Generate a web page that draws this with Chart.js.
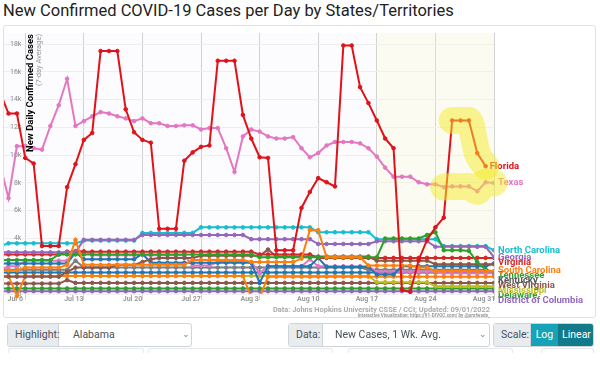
<!DOCTYPE html>
<html><head><meta charset="utf-8">
<script src="https://cdn.jsdelivr.net/npm/chart.js@4"></script>
<style>
html,body{margin:0;padding:0;background:#fff;}
body{width:600px;height:386px;position:relative;overflow:hidden;font-family:Roboto,"Helvetica Neue",Arial,sans-serif;}
#title{position:absolute;left:3px;top:1px;font-size:16.5px;color:#222;white-space:nowrap;}
#panel{position:absolute;left:3px;top:25px;width:593px;height:293px;border:1px solid #e2e2e2;border-radius:3px;box-sizing:border-box;}
#cv{position:absolute;left:0;top:0;}
.src{position:absolute;right:110px;white-space:nowrap;text-align:right;color:#aaa;font-weight:bold;}
.grp{position:absolute;top:323px;height:24px;border:1px solid #ced4da;border-radius:3px;box-sizing:border-box;font-size:10.5px;color:#495057;overflow:hidden;background:#fff;}
.lab{position:absolute;top:0;bottom:0;left:0;background:#e9ecef;border-right:1px solid #ced4da;line-height:22px;padding-left:7px;box-sizing:border-box;}
.val{position:absolute;top:0;line-height:22px;}
.chev{position:absolute;top:0;line-height:20px;font-size:9px;color:#888;}
.btn{position:absolute;top:0;bottom:0;color:#fff;line-height:22px;text-align:center;}
.row2{position:absolute;top:348px;height:5px;border:1px solid #e6e9ec;border-bottom:none;border-radius:3px 3px 0 0;box-sizing:border-box;}
</style></head>
<body>
<div id="title">New Confirmed COVID-19 Cases per Day by States/Territories</div>
<div id="panel"></div>
<canvas id="cv" width="600" height="320"></canvas>
<div class="src" style="top:305px;font-size:7.4px;">Data: Johns Hopkins University CSSE / CCI; Updated: 09/01/2022</div>
<div class="src" style="top:313px;font-size:4.6px;color:#999;">Interactive Visualization: https://91-DIVOC.com/ by @profwade_</div>

<div class="grp" style="left:7px;width:185px;"><div class="lab" style="width:51px;">Highlight:</div><div class="val" style="left:65px;">Alabama</div><div class="chev" style="left:174px;">&#8964;</div></div>
<div class="grp" style="left:288px;width:202px;"><div class="lab" style="width:34px;">Data:</div><div class="val" style="left:46px;">New Cases, 1 Wk. Avg.</div><div class="chev" style="left:190px;">&#8964;</div></div>
<div class="grp" style="left:493px;width:101px;"><div class="lab" style="width:37px;">Scale:</div><div class="btn" style="left:37px;width:27px;background:#17a2b8;">Log</div><div class="btn" style="left:64px;width:37px;background:#117a8b;">Linear</div></div>
<div class="row2" style="left:8px;width:136px;"></div>
<div class="row2" style="left:148px;width:185px;"></div>
<div class="row2" style="left:348px;width:165px;"></div>
<div class="row2" style="left:541px;width:53px;"></div>

<script>
// Days shown (x index = position in this list)
const dates = ['Jul 3','Jul 4','Jul 5','Jul 6','Jul 7','Jul 8','Jul 9','Jul 10','Jul 11','Jul 12',
 'Jul 13','Jul 14','Jul 15','Jul 16','Jul 17','Jul 18','Jul 19','Jul 20','Jul 21','Jul 22',
 'Jul 23','Jul 24','Jul 25','Jul 26','Jul 27','Jul 28','Jul 29','Jul 30','Jul 31','Aug 1',
 'Aug 2','Aug 3','Aug 4','Aug 5','Aug 6','Aug 7','Aug 8','Aug 9','Aug 10','Aug 11',
 'Aug 12','Aug 13','Aug 14','Aug 15','Aug 16','Aug 17','Aug 18','Aug 19','Aug 20','Aug 21',
 'Aug 22','Aug 23','Aug 24','Aug 25','Aug 26','Aug 27','Aug 28','Aug 29','Aug 30','Aug 31'];
const tickLabels = ['Jul 6','Jul 13','Jul 20','Jul 27','Aug 3','Aug 10','Aug 17','Aug 24','Aug 31'];
const yTickValues = [0,2,4,6,8,10,12,14,16,18]; // thousands
const shadeFrom = 'Aug 17';

// New cases per day, 7-day average, in thousands
const florida = [14.5,13.0,13.0,9.8,9.4,3.45,3.45,3.45,7.7,9.35,
 11.1,11.6,17.5,17.5,17.5,13.3,11.65,11.1,10.9,4.7,
 4.7,4.7,9.6,10.2,10.6,10.7,16.8,16.8,16.8,12.9,
 11.2,9.85,9.8,3.15,3.15,3.15,6.2,7.35,8.35,8.05,
 7.75,17.9,17.9,14.9,13.75,12.5,11.2,10.5,0.3,0.15,
 2.45,3.9,4.8,5.5,12.5,12.5,12.5,10.15,9.2,null];
const texas = [9.3,6.9,10.65,10.65,10.5,10.4,12.1,13.6,15.5,12.1,
 12.45,12.8,13.1,13.0,12.8,12.65,12.45,12.65,12.3,12.3,
 12.1,12.1,12.15,12.15,11.85,11.95,11.95,10.5,8.8,11.35,
 11.85,11.7,11.35,11.2,11.2,11.3,10.5,9.85,10.15,10.7,
 10.95,10.95,10.95,10.85,10.5,9.9,9.1,8.45,8.45,8.45,
 8.05,7.9,7.9,7.7,7.75,7.75,7.75,7.4,8.05,8.0];
const northCarolina = [3.45,3.65,3.65,3.65,3.65,3.65,3.65,3.65,3.65,3.65,
 3.85,3.85,3.85,3.85,3.85,3.85,3.85,4.4,4.4,4.4,
 4.4,4.4,4.4,4.4,4.8,4.8,4.8,4.8,4.8,4.8,
 4.8,4.8,4.8,4.8,4.8,4.8,4.8,4.8,4.45,4.45,
 4.45,4.45,4.45,4.45,4.45,3.95,3.95,3.95,3.95,3.95,
 3.95,3.95,3.95,3.45,3.45,3.45,3.45,3.45,3.45,3.15];
const georgia = [3.0,3.0,3.0,3.0,3.0,3.0,3.0,3.0,3.0,3.0,
 3.9,3.9,3.9,3.9,3.9,3.9,3.9,4.25,4.25,4.25,
 4.25,4.25,4.25,4.25,4.25,4.25,4.25,4.25,4.25,4.25,
 3.95,3.95,3.95,3.95,3.95,3.95,3.95,3.95,3.6,3.6,
 3.6,3.6,3.6,3.6,3.6,3.8,3.8,3.8,3.8,3.8,
 3.8,3.8,3.4,3.4,3.4,3.4,3.4,3.4,3.4,2.65];
const tennessee = [2.45,2.45,2.45,2.45,2.45,2.45,2.45,2.85,2.85,2.85,
 2.85,2.85,2.85,2.85,2.85,2.85,2.85,2.85,2.85,2.85,
 2.85,2.85,2.85,2.85,2.85,2.85,2.85,2.85,2.85,2.85,
 2.85,2.65,2.65,2.65,2.65,2.65,2.65,2.65,2.65,2.65,
 2.65,2.65,2.65,2.65,2.65,2.65,4.0,4.0,4.0,4.0,
 4.0,4.25,4.45,3.15,3.15,3.15,3.1,2.3,1.75,1.6];
const virginia = [2.85,2.85,2.85,2.85,2.85,2.85,2.85,2.85,3.05,3.05,
 3.05,3.05,3.05,3.05,3.05,3.05,3.05,3.05,3.05,3.05,
 3.05,3.05,3.05,3.05,3.05,3.05,3.05,3.05,3.05,3.05,
 3.05,2.85,2.85,2.85,2.85,2.85,2.85,2.85,2.6,2.6,
 2.6,2.6,2.6,2.6,2.6,2.6,2.6,2.6,2.6,2.6,
 2.6,2.6,2.6,2.6,2.6,2.6,2.6,2.6,2.6,2.6];
const southCarolina = [1.7,1.7,1.7,1.9,1.9,1.9,1.9,1.9,2.1,3.9,
 2.1,2.1,2.1,2.1,2.1,2.1,2.1,2.1,2.1,2.1,
 2.1,2.1,2.1,2.45,2.45,2.45,2.45,2.45,2.45,2.45,
 2.3,2.3,2.3,2.3,2.3,2.3,2.55,4.6,4.6,2.65,
 2.65,2.65,2.65,2.65,2.05,2.05,2.05,2.05,2.05,2.05,
 1.9,1.9,1.65,1.65,1.65,1.65,1.65,1.65,1.65,1.65];
const kentucky = [1.75,1.75,1.75,1.75,1.75,1.75,1.75,1.75,1.75,2.4,
 1.9,1.9,1.9,1.9,1.9,1.9,1.9,1.9,1.9,1.9,
 1.9,1.9,1.9,1.9,1.9,1.9,1.9,1.9,1.9,1.9,
 1.9,1.9,1.9,1.9,1.9,1.9,1.9,1.9,1.9,1.9,
 1.9,1.9,1.9,1.9,1.75,1.75,1.75,1.75,1.75,1.75,
 1.75,1.75,1.75,1.75,1.75,1.75,1.75,1.75,1.75,1.45];
const westVirginia = [0.75,0.75,0.75,0.75,0.75,0.75,0.75,0.75,1.0,0.8,
 0.8,0.8,0.8,0.8,0.8,0.8,0.8,0.8,0.8,0.8,
 0.8,0.8,0.8,0.8,0.8,0.8,0.8,0.8,0.8,0.8,
 0.8,0.8,0.8,0.8,0.8,0.8,0.8,0.8,0.8,0.8,
 0.8,0.8,0.8,0.8,0.8,0.8,0.8,0.8,0.8,0.8,
 0.8,0.8,0.8,0.8,0.8,0.8,0.8,0.8,0.8,0.8];
const mississippi = [1.3,1.3,1.3,1.3,1.3,1.3,1.3,1.3,1.3,1.3,
 1.3,1.3,1.3,1.3,1.3,1.3,1.3,1.3,1.3,1.3,
 1.3,1.3,1.3,1.3,1.3,1.3,1.3,1.3,1.3,1.3,
 1.3,1.3,1.3,1.3,1.3,1.3,1.3,1.3,1.3,1.3,
 1.3,1.3,1.3,1.3,1.3,0.85,0.85,0.85,0.85,0.85,
 0.85,0.85,0.55,0.55,0.55,0.55,0.55,0.55,0.55,0.55];
const delaware = [0.4,0.4,0.4,0.4,0.4,0.4,0.4,0.4,0.4,0.4,
 0.4,0.4,0.4,0.4,0.4,0.4,0.4,0.4,0.4,0.4,
 0.4,0.4,0.4,0.4,0.4,0.4,0.4,0.4,0.4,0.4,
 0.4,0.4,0.4,0.4,0.4,0.4,0.4,0.4,0.4,0.4,
 0.4,0.4,0.4,0.4,0.4,0.4,0.4,0.4,0.4,0.4,
 0.4,0.4,0.4,0.4,0.4,0.4,0.4,0.4,0.4,0.4];
const districtOfColumbia = [0.2,0.2,0.2,0.2,0.2,0.2,0.2,0.2,0.2,0.2,
 0.2,0.2,0.2,0.2,0.2,0.2,0.2,0.2,0.2,0.2,
 0.2,0.2,0.2,0.2,0.2,0.2,0.2,0.2,0.2,0.2,
 0.2,0.2,0.2,0.2,0.2,0.2,0.2,0.2,0.2,0.2,
 0.2,0.2,0.2,0.2,0.2,0.2,0.2,0.2,0.2,0.2,
 0.2,0.2,0.2,0.2,0.2,0.2,0.2,0.2,0.2,0.2];
const louisiana = [1.25,1.25,1.25,1.25,1.25,1.25,1.25,1.25,1.6,1.9,
 1.9,1.9,1.9,1.9,2.1,2.1,2.1,2.3,2.5,2.6,
 2.6,2.6,2.6,2.6,2.75,2.75,2.75,2.75,2.75,2.75,
 2.75,2.75,3.2,2.7,2.7,2.7,2.7,2.7,2.7,2.7,
 2.7,2.7,2.7,2.7,2.7,2.4,2.4,2.4,2.4,2.4,
 2.4,2.4,2.15,2.15,2.15,2.15,2.15,2.15,2.15,2.15];
const alabama = [2.2,2.2,2.2,2.2,2.2,2.2,2.2,2.2,2.2,3.0,
 2.5,2.5,2.5,2.5,2.5,2.5,2.5,2.9,2.25,2.25,
 2.25,2.25,2.25,2.25,2.25,2.25,2.25,2.25,2.25,2.25,
 2.25,0.8,2.0,2.0,2.0,2.0,2.0,2.0,2.6,1.95,
 1.95,1.95,1.95,1.95,1.95,1.4,1.4,1.4,2.0,2.0,
 2.0,2.0,2.0,2.0,2.0,2.0,2.0,2.0,2.0,2.2];
const maryland = [1.7,2.0,2.0,2.4,2.4,2.4,2.4,2.4,2.4,3.1,
 3.1,2.8,2.8,2.8,2.8,2.8,2.8,2.8,2.8,2.8,
 2.8,2.8,2.8,2.05,2.05,2.05,2.3,2.3,2.3,2.3,
 2.3,1.5,2.0,2.0,2.0,2.0,2.0,2.5,2.0,2.0,
 2.0,2.0,2.0,2.0,2.0,1.6,1.6,1.6,1.6,1.6,
 1.6,1.6,1.6,1.5,1.5,1.5,1.5,1.5,1.5,1.5];
const arkansas = [1.3,1.3,-0.15,1.3,1.3,1.3,1.3,1.3,1.3,1.3,
 1.3,1.3,1.3,1.3,1.3,1.3,1.3,1.3,1.3,1.3,
 1.3,1.3,1.3,1.3,1.3,1.3,1.3,1.3,1.3,1.3,
 -0.25,-0.25,1.25,1.25,1.25,1.25,1.25,1.25,1.25,1.25,
 1.25,1.25,1.25,1.25,1.25,1.25,1.25,1.25,1.25,1.25,
 1.25,1.25,1.25,1.25,1.25,1.25,1.25,1.25,1.25,1.25];
const oklahoma = [1.55,1.55,1.55,1.55,1.55,1.55,1.55,1.55,1.55,1.55,
 1.55,1.55,1.55,1.55,1.55,1.55,1.55,1.55,1.55,1.55,
 1.55,1.55,1.55,1.55,1.55,1.55,1.55,1.55,1.55,1.55,
 1.55,1.55,1.55,1.55,1.55,1.55,1.55,1.55,1.55,1.55,
 1.55,1.55,1.55,1.55,1.55,1.55,1.55,1.55,1.55,1.55,
 1.55,1.55,1.55,1.55,1.55,1.55,1.55,1.55,1.55,1.55];

// series: name, values, colour, labelled at the right edge?
const series = [
 ['Florida', florida, '#e0121a', true],
 ['Texas', texas, '#e377c2', true],
 ['South Carolina', southCarolina, '#ff7f0e', true],
 ['Tennessee', tennessee, '#2ca02c', true],
 ['Georgia', georgia, '#9467bd', true],
 ['North Carolina', northCarolina, '#17becf', true],
 ['Virginia', virginia, '#d62728', true],
 ['Louisiana', louisiana, '#8c564b', false],
 ['Alabama', alabama, '#1f77b4', false],
 ['Maryland', maryland, '#e377c2', false],
 ['Kentucky', kentucky, '#7f7f7f', true],
 ['Arkansas', arkansas, '#ff7f0e', false],
 ['Oklahoma', oklahoma, '#1f77b4', false],
 ['Mississippi', mississippi, '#bcbd22', true],
 ['West Virginia', westVirginia, '#8c564b', true],
 ['Delaware', delaware, '#2ca02c', true],
 ['District of Columbia', districtOfColumbia, '#9467bd', true]
];
const highlighted = [['Florida', 54], ['Texas', 53]]; // name, first highlighted day index
const belowZeroMarkers = ['Arkansas']; // negative days show their dot under the axis

const labelColor = {'Kentucky':'#555'};

const datasets = series.map(([name, vals, col, lab]) => ({
  label: name, data: vals, borderColor: col, backgroundColor: col,
  pointBackgroundColor: col, pointBorderColor: col,
  borderWidth: 2, pointRadius: 1.8, pointBorderWidth: 1, pointHoverRadius: 0,
  tension: 0, fill: false, spanGaps: false, showLabel: lab
}));
belowZeroMarkers.forEach(name => {
  const [, vals, col] = series.find(s => s[0] === name);
  datasets.push({
    label: name + ' below zero', data: vals.map(v => v < 0 ? v : null), showLine: false,
    pointBackgroundColor: col, pointBorderColor: col, pointRadius: 1.8, pointBorderWidth: 1, pointHoverRadius: 0,
    clip: false, showLabel: false
  });
});
highlighted.forEach(([name, from]) => {
  const src = series.find(s => s[0] === name)[1];
  datasets.push({
    label: name + ' highlight', data: src.map((v, i) => i >= from ? v : null),
    borderColor: 'rgba(246,236,40,0.5)', borderWidth: 27, borderCapStyle: 'round', borderJoinStyle: 'round',
    pointRadius: 0, pointHoverRadius: 0, fill: false, cubicInterpolationMode: 'monotone', order: -1, clip: false, showLabel: false
  });
});

const bgPlugin = {
  id: 'bg',
  beforeDatasetsDraw(chart) {
    const {ctx, chartArea: a, scales: {x}} = chart;
    ctx.save();
    const sx = x.getPixelForValue(dates.indexOf(shadeFrom));
    ctx.fillStyle = 'rgba(255,255,190,0.18)';
    ctx.fillRect(sx, a.top, a.right - sx, a.bottom - a.top);
    ctx.restore();
    // right-edge labels
    const items = [];
    chart.data.datasets.forEach((ds, di) => {
      if (!ds.showLabel) return;
      let li = ds.data.length - 1;
      while (li >= 0 && ds.data[li] == null) li--;
      const px = x.getPixelForValue(li);
      const py = chart.scales.y.getPixelForValue(ds.data[li]);
      items.push({text: ds.label, x: px + 4, y: py, color: labelColor[ds.label] || ds.borderColor});
    });
    items.sort((a, b) => a.y - b.y);
    for (let i = 1; i < items.length; i++) {
      if (items[i].y < items[i - 1].y + 5) items[i].y = items[i - 1].y + 5;
    }
    ctx.save();
    ctx.font = 'bold 9.5px Roboto, Arial, sans-serif';
    ctx.textBaseline = 'middle';
    ctx.textAlign = 'left';
    items.slice().reverse().forEach(it => { ctx.fillStyle = it.color; ctx.fillText(it.text, it.x, it.y); });
    ctx.restore();
  },
  beforeDraw(chart) {
    const {ctx, chartArea: a} = chart;
    ctx.save();
    ctx.fillStyle = '#fcfbfe';
    ctx.fillRect(a.left, a.top, a.right - a.left, a.bottom - a.top);
    ctx.restore();
  },
  afterDatasetsDraw(chart) {
    const {ctx} = chart;
    ctx.save();
    ctx.translate(chart.chartArea.left + 27, chart.chartArea.top + 1);
    ctx.rotate(-Math.PI / 2);
    ctx.textAlign = 'right';
    ctx.textBaseline = 'middle';
    ctx.fillStyle = '#000';
    ctx.font = 'bold 9.5px Roboto, Arial, sans-serif';
    ctx.fillText('New Daily Confirmed Cases', 0, 0);
    ctx.fillStyle = '#999';
    ctx.font = '7.5px Roboto, Arial, sans-serif';
    ctx.fillText('(7-day Average)', 0, 8);
    ctx.restore();
  }
};

new Chart(document.getElementById('cv'), {
  type: 'line',
  data: { labels: dates.map((d, i) => i), datasets },
  options: {
    responsive: false, animation: false, devicePixelRatio: 1,
    layout: { padding: { left: 4, top: 33, right: 106, bottom: 1 } },
    plugins: { legend: { display: false }, tooltip: { enabled: false } },
    scales: {
      x: {
        type: 'linear', min: 0.46, max: dates.length - 1,
        afterBuildTicks: s => { s.ticks = tickLabels.map(t => ({ value: dates.indexOf(t) })); },
        afterFit: s => { s.height = 25; },
        grid: { color: '#d2d2d2', tickLength: 6, lineWidth: 1 },
        border: { display: false },
        ticks: { callback: (v, i) => tickLabels[i], labelOffset: -10, padding: -5, maxRotation: 0, autoSkip: false,
          font: { size: 7, weight: 'bold', family: 'Roboto, Arial, sans-serif' }, color: '#9a9a9a' }
      },
      y: {
        min: 0, max: 18.8,
        afterBuildTicks: s => { s.ticks = yTickValues.map(v => ({ value: v })); },
        afterFit: s => { s.width = 0; },
        grid: { color: '#eeeeee', drawTicks: false },
        border: { display: false },
        ticks: { mirror: true, crossAlign: 'far', padding: 6, callback: v => v === 0 ? '0' : v + 'k',
          font: { size: 7, family: 'Roboto, Arial, sans-serif' }, color: '#888' }
      }
    }
  },
  plugins: [bgPlugin]
});
</script>
</body></html>
